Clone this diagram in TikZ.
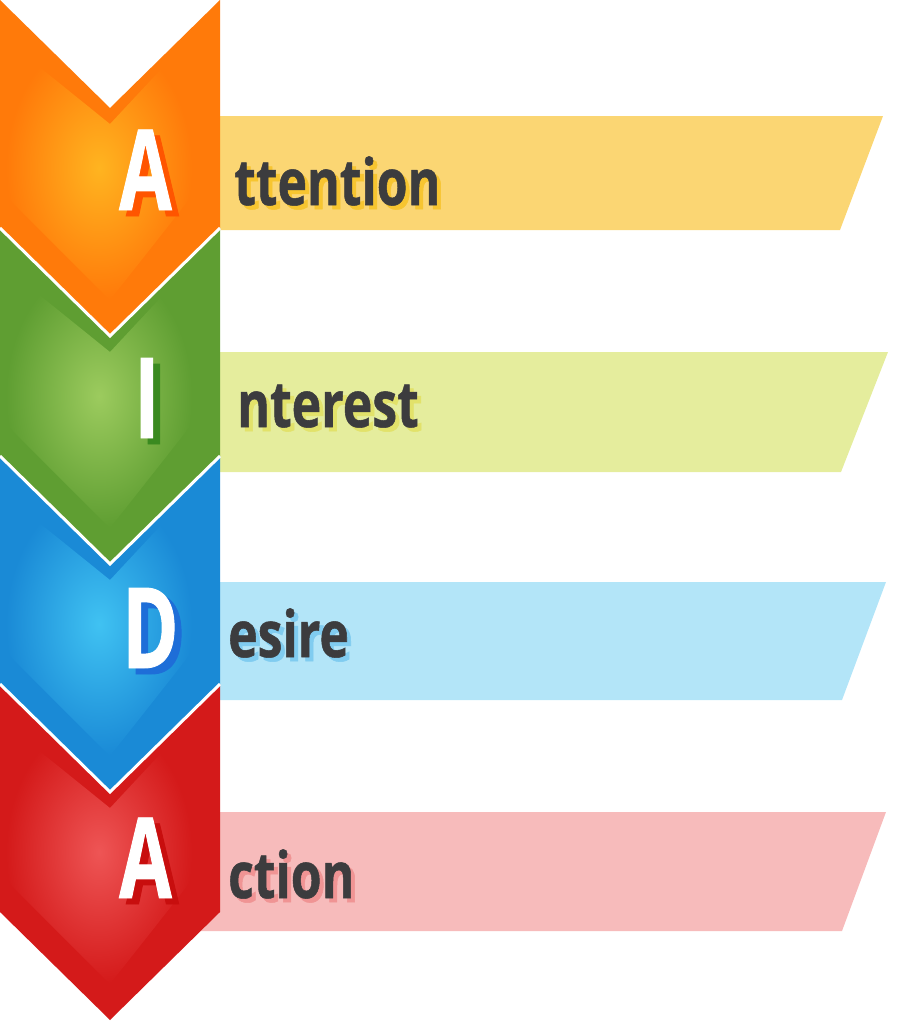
\documentclass[tikz,border=0pt]{standalone}
\usepackage{fontspec}
\newfontfamily\wordfont[FakeStretch=0.78,FakeBold=0.8]{Open Sans}
\newfontfamily\letterfont[FakeStretch=0.68,FakeBold=0.8]{Open Sans}
\definecolor{orangeDark}{HTML}{FF7A0A}
\definecolor{orangeLight}{HTML}{FFB420}
\definecolor{orangeShadow}{HTML}{FF5500}
\definecolor{greenDark}{HTML}{5F9E32}
\definecolor{greenLight}{HTML}{9CCB5E}
\definecolor{greenShadow}{HTML}{3A8A20}
\definecolor{blueDark}{HTML}{1A8AD6}
\definecolor{blueLight}{HTML}{40C2F2}
\definecolor{blueShadow}{HTML}{1E6ED8}
\definecolor{redDark}{HTML}{D41A1A}
\definecolor{redLight}{HTML}{EE5555}
\definecolor{redShadow}{HTML}{C80E0E}
\definecolor{bannerYellow}{HTML}{FBD673}
\definecolor{bannerGreen}{HTML}{E5ED9D}
\definecolor{bannerBlue}{HTML}{B3E5F8}
\definecolor{bannerRed}{HTML}{F7BBBB}
\definecolor{wordYellow}{HTML}{F7C530}
\definecolor{wordGreen}{HTML}{E2E26A}
\definecolor{wordBlue}{HTML}{80CCF0}
\definecolor{wordRed}{HTML}{F09494}
\definecolor{wordGray}{HTML}{3C3C3E}
\newcommand{\dropped}[4]{\makebox[0pt][l]{\hspace*{#2}\raisebox{-#3}{\textcolor{#1}{#4}}}#4}
\tikzset{
  word/.style={anchor=base west,inner sep=0pt,text=wordGray,
    font=\wordfont\bfseries\fontsize{64}{64}\selectfont},
  letter/.style={anchor=base west,inner sep=0pt,text=white,
    font=\letterfont\bfseries\fontsize{112}{112}\selectfont},
  separator/.style={white,line width=3pt,line join=miter},
}

\begin{document}
\begin{tikzpicture}[x=1pt,y=-1pt]
\useasboundingbox (0,0) rectangle (901,1023);
\fill[bannerYellow] (150,116) -- (883,116) -- (840,230) -- (150,230) -- cycle;
\fill[bannerGreen] (150,352) -- (888,352) -- (841,472) -- (150,472) -- cycle;
\fill[bannerBlue] (150,582) -- (886,582) -- (842,700) -- (150,700) -- cycle;
\fill[bannerRed] (150,812) -- (886,812) -- (842,931) -- (150,931) -- cycle;
\fill[redDark] (0,684) -- (110,792) -- (220,684) -- (220,912) -- (110,1020) -- (0,912) -- cycle;
\shade[inner color=redLight,outer color=redDark] (6,724) -- (110,808) -- (192,720) -- (192,880) -- (110,984) -- (6,880) -- cycle;
\fill[blueDark] (0,456) -- (110,564) -- (220,456) -- (220,684) -- (110,792) -- (0,684) -- cycle;
\shade[inner color=blueLight,outer color=blueDark] (6,496) -- (110,580) -- (192,492) -- (192,652) -- (110,756) -- (6,652) -- cycle;
\draw[separator] (0,684) -- (110,792) -- (220,684);
\fill[greenDark] (0,228) -- (110,336) -- (220,228) -- (220,456) -- (110,564) -- (0,456) -- cycle;
\shade[inner color=greenLight,outer color=greenDark] (6,268) -- (110,352) -- (192,264) -- (192,424) -- (110,528) -- (6,424) -- cycle;
\draw[separator] (0,456) -- (110,564) -- (220,456);
\fill[orangeDark] (0,0) -- (110,108) -- (220,0) -- (220,228) -- (110,336) -- (0,228) -- cycle;
\shade[inner color=orangeLight,outer color=orangeDark] (6,40) -- (110,124) -- (192,36) -- (192,196) -- (110,300) -- (6,196) -- cycle;
\draw[separator] (0,228) -- (110,336) -- (220,228);
\node[letter] (attentionLetter) at (119,210) {\dropped{orangeShadow}{7pt}{6pt}{A}};
\node[letter] (interestLetter) at (134,438) {\dropped{greenShadow}{7pt}{6pt}{I}};
\node[letter] (desireLetter) at (122,668) {\dropped{blueShadow}{7pt}{6pt}{D}};
\node[letter] (actionLetter) at (119,898) {\dropped{redShadow}{7pt}{6pt}{A}};
\node[word] (attention) at (234,205) {\dropped{wordYellow}{4pt}{4pt}{ttention}};
\node[word] (interest) at (237,427) {\dropped{wordGreen}{4pt}{4pt}{nterest}};
\node[word] (desire) at (228,657) {\dropped{wordBlue}{4pt}{4pt}{esire}};
\node[word] (action) at (228,898) {\dropped{wordRed}{4pt}{4pt}{ction}};
\end{tikzpicture}
\end{document}
